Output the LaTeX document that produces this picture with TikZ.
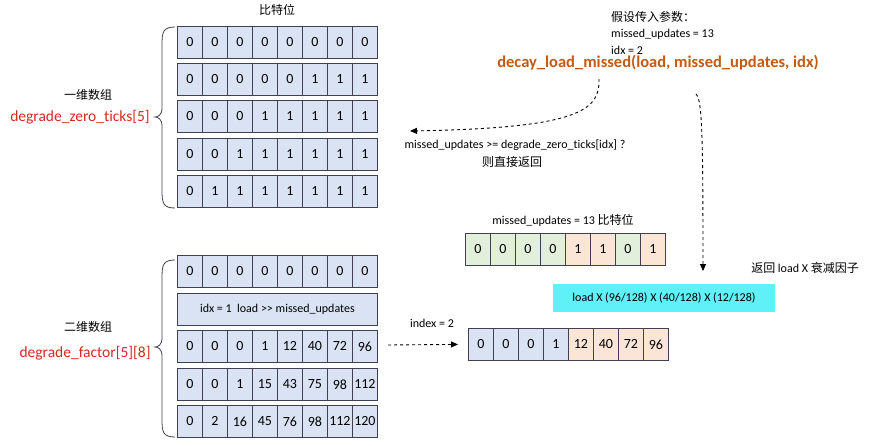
\documentclass[tikz,border=0pt]{standalone}
\usepackage{fontspec}
\setmainfont{Carlito}[Ligatures=NoCommon]
\newfontfamily\cjk{Noto Sans CJK SC}
\usetikzlibrary{arrows.meta,decorations.pathreplacing}
\definecolor{cb}{HTML}{DAE3F3}
\definecolor{cg}{HTML}{E2EFDA}
\definecolor{co}{HTML}{FBE5D6}
\definecolor{cc}{HTML}{5FF0F8}
\definecolor{ln}{HTML}{404050}
\definecolor{rd}{HTML}{D42A1F}
\definecolor{og}{HTML}{C55A11}
\tikzset{cell/.style={draw=ln,line width=0.8pt,minimum width=25pt,minimum height=32pt,inner sep=0pt,font=\fontsize{14}{14}\selectfont,anchor=north west},
lbl/.style={font=\fontsize{12}{13}\selectfont,inner sep=1pt},
red/.style={font=\fontsize{15.5}{16}\selectfont,text=rd},
dsh/.style={dashed,line width=0.9pt,-{Triangle[length=7pt,width=6pt]}},
brc/.style={draw=ln,line width=0.8pt}}
\begin{document}
\begin{tikzpicture}[x=1pt,y=-1pt]
\useasboundingbox (0,0) rectangle (870,445);
% top array
\node[lbl] (bt) at (277,10) {\cjk 比特位};
\foreach \row/\y in {{0,0,0,0,0,0,0,0}/26,{0,0,0,0,0,1,1,1}/63,{0,0,0,1,1,1,1,1}/100,{0,0,1,1,1,1,1,1}/138,{0,1,1,1,1,1,1,1}/175}{
  \foreach \v [count=\i] in \row {\node[cell,fill=cb] (t\y-\i) at ({177+25*(\i-1)},\y) {\v};}}
\draw[brc] (175,27) .. controls (163,27) and (162,32) .. (162,45) -- (162,108) .. controls (162,115) and (158,117) .. (155,117) .. controls (158,117) and (162,119) .. (162,126) -- (162,190) .. controls (162,203) and (163,208) .. (175,208);
\node[lbl] (l1) at (88,95) {\cjk 一维数组};
\node[red] (r1) at (80,117) {degrade\_zero\_ticks[5]};
% bottom array
\foreach \row/\y in {{0,0,0,0,0,0,0,0}/255,{0,0,0,1,12,40,72,96}/330,{0,0,1,15,43,75,98,112}/368,{0,2,16,45,76,98,112,120}/405}{
  \foreach \v [count=\i] in \row {\node[cell,fill=cb] (b\y-\i) at ({177+25*(\i-1)},\y) {\v};}}
\node[cell,fill=cb,minimum width=200pt,font=\fontsize{12}{13}\selectfont] (mg) at (177,293) {idx = 1 \ load >{}> missed\_updates};
\draw[brc] (175,260) .. controls (163,260) and (162,265) .. (162,278) -- (162,338) .. controls (162,345) and (158,347) .. (155,347) .. controls (158,347) and (162,349) .. (162,356) -- (162,420) .. controls (162,432) and (163,437) .. (175,437);
\node[lbl] (l2) at (88,327) {\cjk 二维数组};
\node[red] (r2) at (85,353) {degrade\_factor[5][8]};
% right arrays
\foreach \v/\c [count=\i] in {0/cb,0/cb,0/cb,1/cb,12/co,40/co,72/co,96/co}{\node[cell,fill=\c] (f\i) at ({468+25*(\i-1)},328) {\v};}
\coordinate (ia) at (388,345);
\draw[dsh] (ia) -- (f1.west -| 458,0);
\node[lbl] (ix) at (432,323) {index = 2};
\node[lbl] (mu) at (563,220) {missed\_updates = 13 {\cjk 比特位}};
\foreach \v/\c [count=\i] in {0/cg,0/cg,0/cg,0/cg,1/co,1/co,0/cg,1/co}{\node[cell,fill=\c] (m\i) at ({465+25*(\i-1)},233) {\v};}
\node[fill=cc,minimum width=222pt,minimum height=28pt,font=\fontsize{12}{13}\selectfont,inner sep=0pt] (cy) at (664,298) {load X (96/128) X (40/128) X (12/128)};
\node[lbl] (rt) at (805,268) {{\cjk 返回} load X {\cjk 衰减因子}};
% top right
\node[lbl,anchor=west] (p1) at (610,17) {\cjk 假设传入参数：};
\node[lbl,anchor=west] (p2) at (610,34) {missed\_updates = 13};
\node[lbl,anchor=west] (p3) at (610,50) {idx = 2};
\node[font=\fontsize{16.5}{17}\selectfont\bfseries,text=og] (fn) at (658,63) {decay\_load\_missed(load, missed\_updates, idx)};
\coordinate (a1) at (599,79);
\coordinate (a1e) at (410,131);
\draw[dsh] (a1) .. controls (600,110) and (580,128) .. (a1e);
\node[lbl] (q1) at (515,145) {missed\_updates >= degrade\_zero\_ticks[idx] ?};
\node[lbl] (q2) at (512,162) {\cjk 则直接返回};
\coordinate (a2) at (696,94);
\coordinate (a2e) at (703,271);
\draw[dsh] (a2) .. controls (702,100) and (703,130) .. (a2e);
\end{tikzpicture}
\end{document}
